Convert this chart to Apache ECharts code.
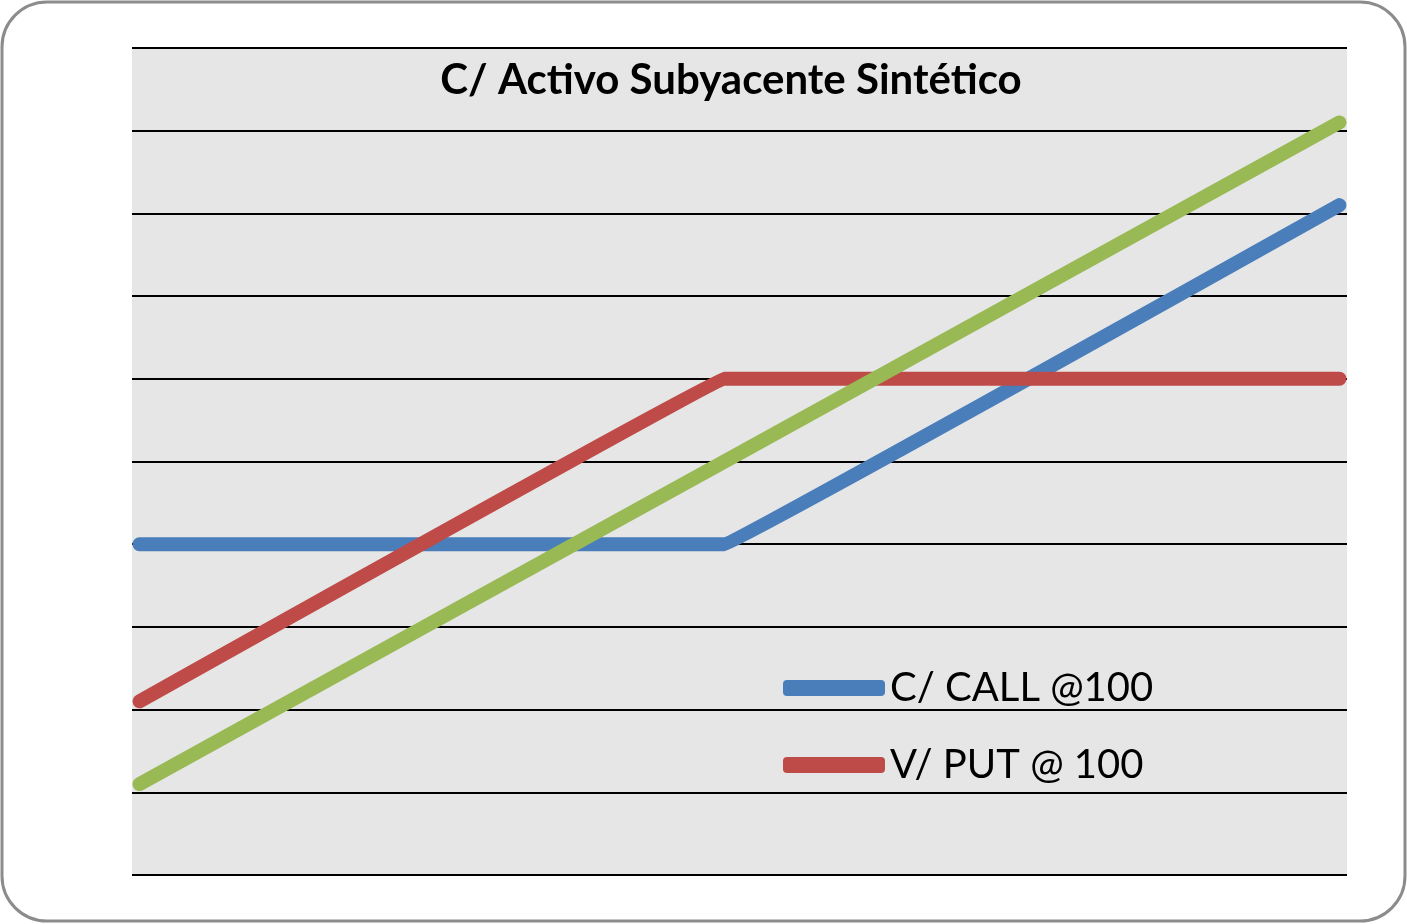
<!DOCTYPE html>
<html>
<head>
<meta charset="utf-8">
<script src="https://cdn.jsdelivr.net/npm/echarts@6/dist/echarts.min.js"></script>
<style>
  html, body { margin: 0; padding: 0; background: #fff; }
  #chart { width: 1407px; height: 924px; }
</style>
</head>
<body>
<div id="chart"></div>
<script>
// precio del subyacente en los puntos de quiebre
const precios = [80.5, 100, 120.5];
// resultados
const compraCall = [-5, -5, 15.5];
const ventaPut = [-14.5, 5, 5];
const sintetico = [-19.5, 0, 20.5];

const nombres = ['C/ CALL @100', 'V/ PUT @ 100', 'Sintético'];

const toPairs = (vals) => precios.map((p, i) => [p, vals[i]]);

const chart = echarts.init(document.getElementById('chart'));

const lineSeries = (name, vals, color) => ({
  name: name,
  type: 'line',
  data: toPairs(vals),
  showSymbol: false,
  smooth: 0.015,
  lineStyle: { color: color, width: 14, cap: 'round', join: 'round' },
  itemStyle: { color: color }
});

const option = {
  animation: false,
  backgroundColor: '#fff',
  title: {
    text: 'C/ Activo Subyacente Sintético',
    left: 726,
    top: 54,
    textAlign: 'center',
    textStyle: { fontFamily: 'Lato', fontWeight: 'bold', fontSize: 42, color: '#000' }
  },
  graphic: [{
    type: 'rect',
    shape: { x: 2, y: 2, width: 1403, height: 919, r: 45 },
    style: { fill: null, stroke: '#8c8c8c', lineWidth: 3 },
    z: -1
  }],
  legend: {
    data: nombres.slice(0, 2),
    orient: 'vertical',
    left: 778,
    top: 663,
    itemWidth: 102,
    itemHeight: 16,
    itemGap: 37,
    icon: 'roundRect',
    textStyle: { fontFamily: 'Lato', fontSize: 40, color: '#000' }
  },
  grid: {
    left: 132, right: 60, top: 48, bottom: 49,
    show: true, backgroundColor: '#e6e6e6', borderWidth: 0
  },
  xAxis: {
    type: 'value',
    min: 80.25,
    max: 120.75,
    axisLine: { show: false },
    axisTick: { show: false },
    axisLabel: { show: false },
    splitLine: { show: false }
  },
  yAxis: {
    type: 'value',
    min: -25,
    max: 25,
    interval: 5,
    axisLine: { show: false },
    axisTick: { show: false },
    axisLabel: { show: false },
    splitLine: { show: true, lineStyle: { color: '#000', width: 2 } }
  },
  series: [
    lineSeries(nombres[0], compraCall, '#4a7ebb'),
    lineSeries(nombres[1], ventaPut, '#be4b48'),
    lineSeries(nombres[2], sintetico, '#98b954')
  ]
};

chart.setOption(option);
</script>
</body>
</html>
